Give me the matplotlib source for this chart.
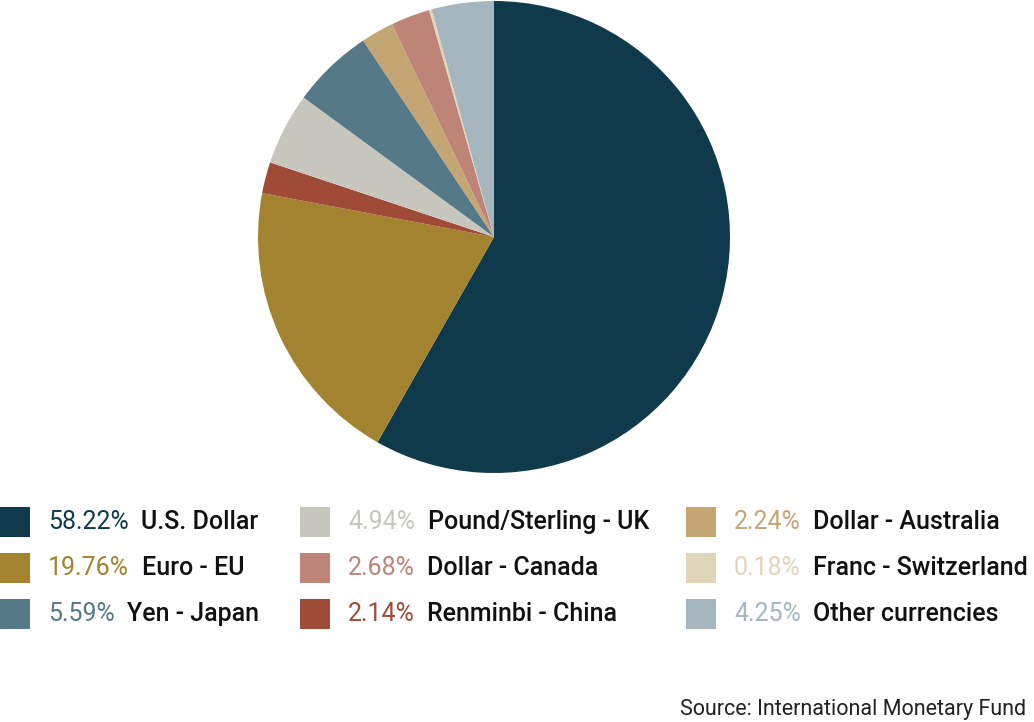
#!/usr/bin/env python3
"""Cuota de reservas mundiales por divisa (FMI): tarta + leyenda en 3 columnas."""
import matplotlib
matplotlib.use("Agg")
import matplotlib.pyplot as plt

# orden del sector, en sentido horario desde arriba
PIE_LABELS = ["U.S. Dollar", "Euro - EU", "Renminbi - China", "Pound/Sterling - UK",
              "Yen - Japan", "Dollar - Australia", "Dollar - Canada",
              "Franc - Switzerland", "Other currencies"]
PIE_VALUES = [58.22, 19.76, 2.14, 4.94, 5.59, 2.24, 2.68, 0.18, 4.25]

COLORS = {
    "U.S. Dollar": "#0e3a4c",
    "Euro - EU": "#a3832f",
    "Yen - Japan": "#567987",
    "Pound/Sterling - UK": "#c6c6bd",
    "Dollar - Canada": "#bf8478",
    "Renminbi - China": "#a04b38",
    "Dollar - Australia": "#c4a672",
    "Franc - Switzerland": "#e0d5b8",
    "Other currencies": "#a5b6be",
}

# leyenda, por columnas
LEGEND_COLS = [
    ["U.S. Dollar", "Euro - EU", "Yen - Japan"],
    ["Pound/Sterling - UK", "Dollar - Canada", "Renminbi - China"],
    ["Dollar - Australia", "Franc - Switzerland", "Other currencies"],
]

W, H = 1034, 722
FONT = "Roboto"


def main():
    fig = plt.figure(figsize=(W / 100, H / 100), dpi=100)
    ax = fig.add_axes([258 / W, (H - 473) / H, 472 / W, 472 / H])
    ax.pie(PIE_VALUES, colors=[COLORS[l] for l in PIE_LABELS], startangle=90,
           counterclock=False, radius=1.0, wedgeprops=dict(linewidth=0))
    ax.set_xlim(-1, 1)
    ax.set_ylim(-1, 1)
    ax.set_aspect("equal")
    ax.axis("off")

    lg = fig.add_axes([0, 0, 1, 1])
    lg.set_xlim(0, W)
    lg.set_ylim(H, 0)
    lg.axis("off")
    value_of = dict(zip(PIE_LABELS, PIE_VALUES))
    col_x = [0, 300, 686]
    row_y = [522, 568, 614]
    for cx, col in zip(col_x, LEGEND_COLS):
        for ry, lbl in zip(row_y, col):
            c = COLORS[lbl]
            lg.add_patch(plt.Rectangle((cx, ry - 15), 30, 30, facecolor=c,
                                       edgecolor="none"))
            t = lg.text(cx + 48, ry, f"{value_of[lbl]:.2f}%", ha="left",
                        va="center", fontsize=18, color=c, family=FONT)
            lg.annotate(lbl, xy=(1, 0.5), xycoords=t, xytext=(9, 0),
                        textcoords="offset points", ha="left", va="center",
                        fontsize=18, color="#111111", family=FONT,
                        fontweight="medium")
    lg.text(1026, 709, "Source: International Monetary Fund", ha="right",
            va="center", fontsize=15.5, color="#222222", family=FONT)

    fig.savefig("out.png", dpi=100)


if __name__ == "__main__":
    main()
